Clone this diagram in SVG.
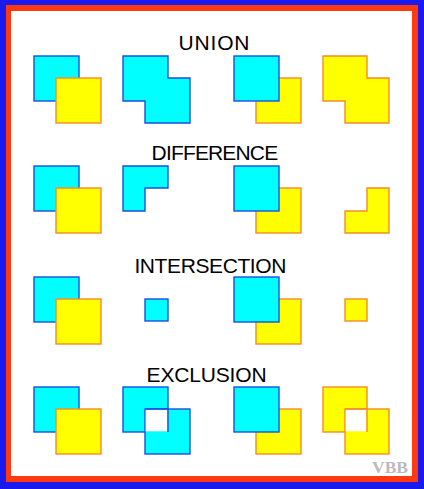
<svg xmlns="http://www.w3.org/2000/svg" width="424" height="489" viewBox="0 0 424 489">
<style>
.c{fill:#00ffff;stroke:#1a4fe0;stroke-width:1.4}
.y{fill:#ffff00;stroke:#f58a2a;stroke-width:1.4}
.h{fill:#ffffff}
.t{font-family:"Liberation Sans",Arial,sans-serif;font-size:21px;fill:#000}
.w{font-family:"Liberation Serif","Times New Roman",serif;font-weight:bold;font-size:17.5px;fill:#bbbbbb}
</style>
<g id="frame">
<rect x="0" y="0" width="424" height="489" fill="#1a1aee"/>
<rect x="6" y="5" width="412" height="477" fill="#ff3a10"/>
<rect x="11" y="11" width="401" height="465" fill="#ffffff"/>
</g>
<g id="labels">
<text class="t" x="178.5" y="49.7" textLength="71" lengthAdjust="spacing">UNION</text>
<text class="t" x="151.6" y="159.7" textLength="126.6" lengthAdjust="spacing">DIFFERENCE</text>
<text class="t" x="134.4" y="272.7" textLength="152" lengthAdjust="spacing">INTERSECTION</text>
<text class="t" x="146.6" y="381.7" textLength="120" lengthAdjust="spacing">EXCLUSION</text>
</g>
<g id="union">
<g id="union-1"><rect class="c" x="34" y="56" width="45" height="45"/><rect class="y" x="56" y="78" width="45" height="45"/></g>
<g id="union-2"><path class="c" d="M123,56H168V78H190V123H145V101H123Z"/></g>
<g id="union-3"><rect class="y" x="256" y="78" width="45" height="45"/><rect class="c" x="234" y="56" width="45" height="45"/></g>
<g id="union-4"><path class="y" d="M323,56H367V78H389V123H345V101H323Z"/></g>
</g>
<g id="difference">
<g id="difference-1"><rect class="c" x="34" y="166" width="45" height="45"/><rect class="y" x="56" y="188" width="45" height="45"/></g>
<g id="difference-2"><path class="c" d="M123,166H168V188H145V211H123Z"/></g>
<g id="difference-3"><rect class="y" x="256" y="188" width="45" height="45"/><rect class="c" x="234" y="166" width="45" height="45"/></g>
<g id="difference-4"><path class="y" d="M367,188H389V233H345V211H367Z"/></g>
</g>
<g id="intersection">
<g id="intersection-1"><rect class="c" x="34" y="277" width="45" height="45"/><rect class="y" x="56" y="299" width="45" height="45"/></g>
<g id="intersection-2"><rect class="c" x="145" y="299" width="23" height="22"/></g>
<g id="intersection-3"><rect class="y" x="256" y="299" width="45" height="45"/><rect class="c" x="234" y="277" width="45" height="45"/></g>
<g id="intersection-4"><rect class="y" x="345" y="299" width="22" height="22"/></g>
</g>
<g id="exclusion">
<g id="exclusion-1"><rect class="c" x="34" y="387" width="45" height="45"/><rect class="y" x="56" y="409" width="45" height="45"/></g>
<g id="exclusion-2"><rect class="c" x="123" y="387" width="45" height="45"/><rect class="c" x="145" y="409" width="45" height="45"/><rect class="h" x="145.7" y="409.7" width="21.6" height="21.6"/><path d="M145,409H168V432" fill="none" stroke="#1a4fe0" stroke-width="1.4"/></g>
<g id="exclusion-3"><rect class="y" x="256" y="409" width="45" height="45"/><rect class="c" x="234" y="387" width="45" height="45"/></g>
<g id="exclusion-4"><rect class="y" x="323" y="387" width="44" height="45"/><rect class="y" x="345" y="409" width="44" height="45"/><rect class="h" x="345.7" y="409.7" width="20.6" height="21.6"/><path d="M345,409H367V432" fill="none" stroke="#f58a2a" stroke-width="1.4"/></g>
</g>
<text class="w" x="372" y="473">VBB</text>
</svg>
